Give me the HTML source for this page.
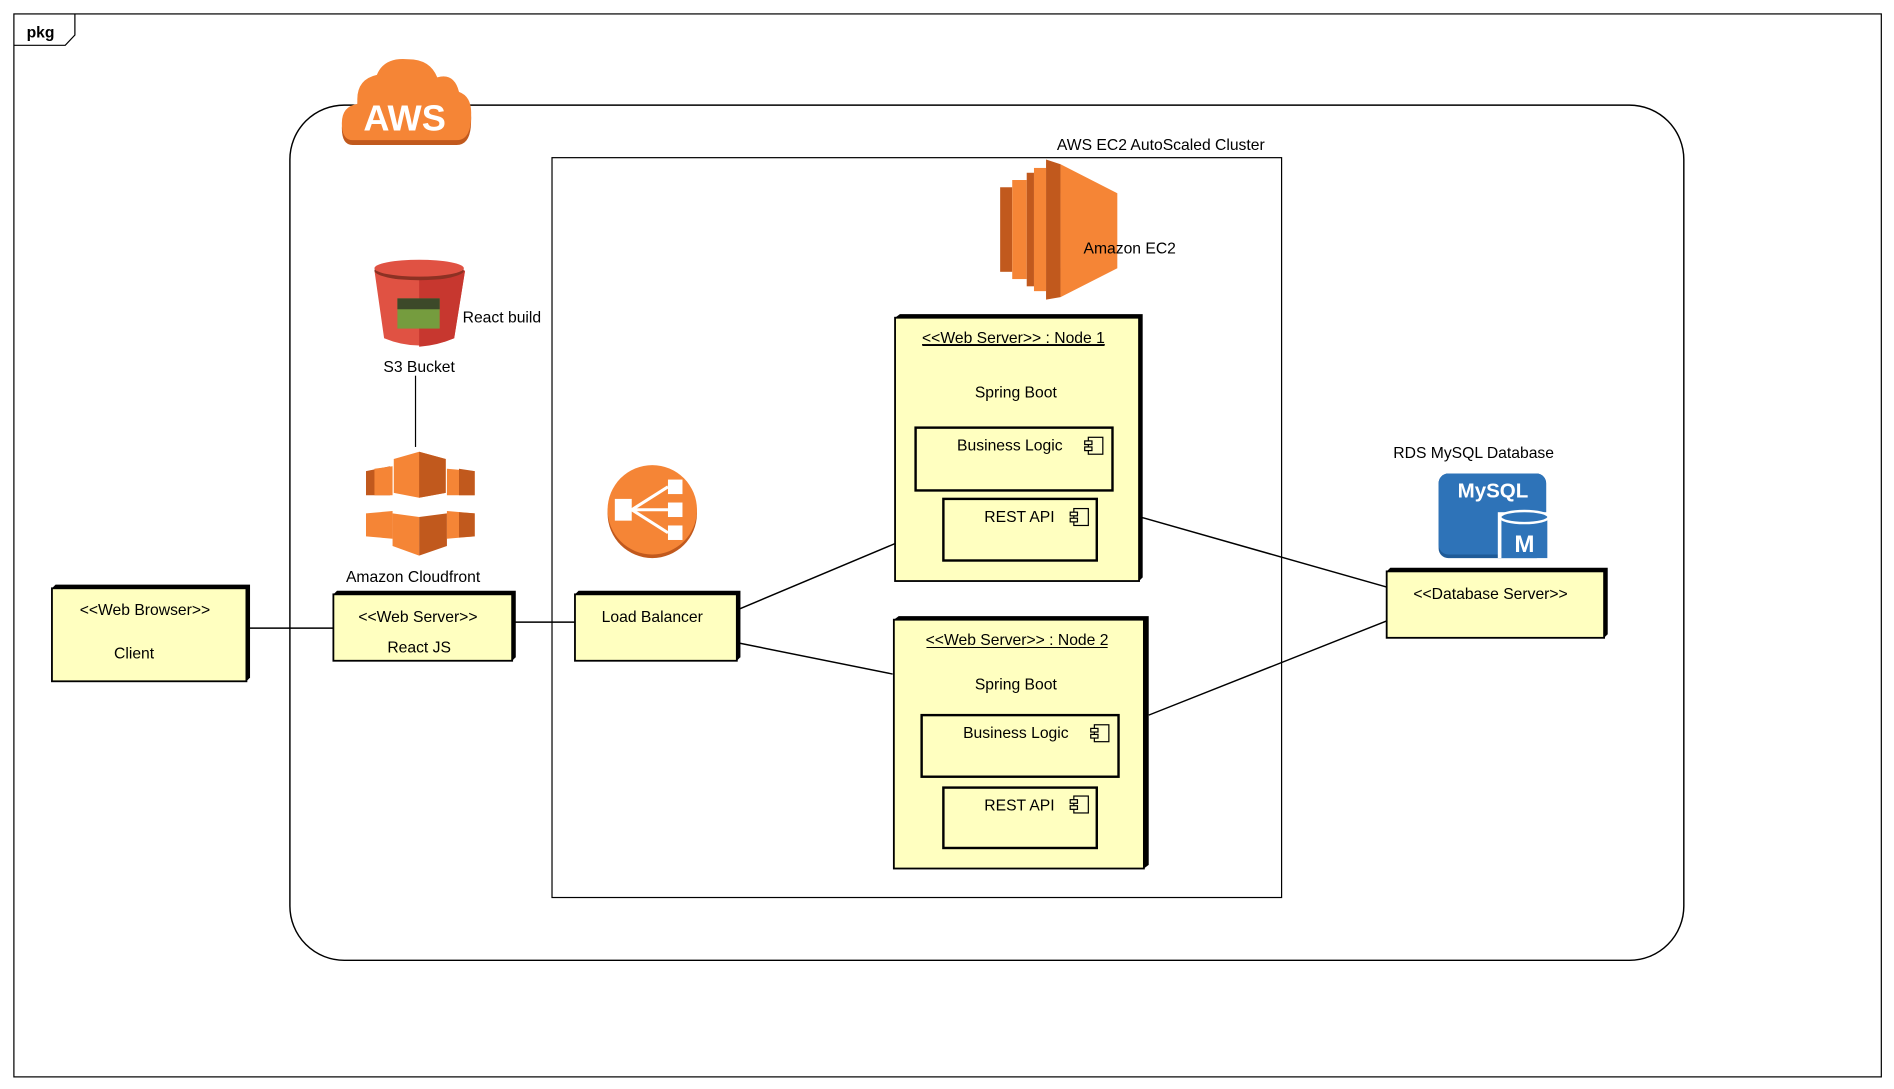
<!DOCTYPE html>
<html><head><meta charset="utf-8"><style>
html,body{margin:0;padding:0;background:#fff;width:1894px;height:1089px;overflow:hidden}
svg{display:block}
text{font-family:"Liberation Sans",sans-serif;font-size:13px;fill:#000}
</style></head><body>
<svg width="1894" height="1089" viewBox="0 0 1568 901.5" xmlns="http://www.w3.org/2000/svg">
<defs>
<g id="comp"><rect x="0" y="0" width="12" height="14" fill="#ffffcc" stroke="#000" stroke-width="1"/><rect x="-3" y="3" width="6" height="3" fill="#ffffcc" stroke="#000" stroke-width="1"/><rect x="-3" y="8" width="6" height="3" fill="#ffffcc" stroke="#000" stroke-width="1"/></g>
</defs>
<rect x="0" y="0" width="1568" height="901.5" fill="#fff"/>
<!-- outer frame -->
<rect x="11.5" y="11.5" width="1546" height="880" fill="none" stroke="#000" stroke-width="1"/>
<path d="M11.5 37.5 H54 L62 29 V11.5" fill="none" stroke="#000"/>
<text x="22" y="31" font-weight="bold" style="font-weight:bold">pkg</text>
<!-- AWS rounded rect -->
<rect x="240" y="87" width="1154" height="708" rx="45" ry="45" fill="#fff" stroke="#000" stroke-width="1.2"/>
<!-- AWS cloud -->
<g>
<path d="M292 120 Q283 120 283 106 Q283 92 296 90 Q294 70 312 66 Q318 50 338 52 Q356 52 362 68 Q376 64 380 80 Q391 84 390 100 Q390 120 378 120 Z" fill="#c1591d"/>
<path d="M292 116 Q283 116 283 102 Q283 88 296 86 Q294 66 312 62 Q318 47 338 49 Q356 49 362 64 Q376 60 380 76 Q391 80 390 96 Q390 116 378 116 Z" fill="#f58536"/>
<text x="335" y="108" text-anchor="middle" style="font-size:30px;font-weight:bold;fill:#fff">AWS</text>
</g>
<!-- EC2 cluster -->
<rect x="457" y="130.5" width="604" height="612.5" fill="#fff" stroke="#000" stroke-width="1"/>
<text x="875" y="124">AWS EC2 AutoScaled Cluster</text>
<!-- EC2 icon -->
<g>
<rect x="828" y="155" width="10" height="70" fill="#c1591d"/>
<rect x="838" y="149" width="12" height="82" fill="#f58536"/>
<rect x="850" y="143" width="6" height="94" fill="#c1591d"/>
<rect x="856" y="139" width="10" height="102" fill="#f58536"/>
<polygon points="866,132 878,136 878,246 866,248" fill="#c1591d"/>
<polygon points="878,136 925,160 925,222 878,246" fill="#f58536"/>
</g>
<text x="897" y="210">Amazon EC2</text>
<!-- Node 1 -->
<polygon points="741,263 745,260 946,260 946,478 943,481" fill="#000"/>
<rect x="741" y="263" width="202" height="218" fill="#ffffc0" stroke="#000" stroke-width="1.5"/>
<text x="839" y="284" text-anchor="middle" text-decoration="underline">&lt;&lt;Web Server&gt;&gt; : Node 1</text>
<line x1="764" y1="286" x2="914" y2="286" stroke="#000" stroke-width="0.8"/>
<text x="841" y="329" text-anchor="middle">Spring Boot</text>
<rect x="758" y="354" width="163" height="52" fill="#ffffc0" stroke="#000" stroke-width="2"/>
<text x="836" y="373" text-anchor="middle">Business Logic</text>
<use href="#comp" x="901" y="362"/>
<rect x="781" y="413" width="127" height="51" fill="#ffffc0" stroke="#000" stroke-width="2"/>
<text x="844" y="432" text-anchor="middle">REST API</text>
<use href="#comp" x="889" y="421"/>
<!-- Node 2 -->
<polygon points="740,513 744,510 951,510 951,716 947,719" fill="#000"/>
<rect x="740" y="513" width="207" height="206" fill="#ffffc0" stroke="#000" stroke-width="1.5"/>
<text x="842" y="534" text-anchor="middle">&lt;&lt;Web Server&gt;&gt; : Node 2</text>
<line x1="767" y1="536" x2="917" y2="536" stroke="#000" stroke-width="0.8"/>
<text x="841" y="571" text-anchor="middle">Spring Boot</text>
<rect x="763" y="592" width="163" height="51" fill="#ffffc0" stroke="#000" stroke-width="2"/>
<text x="841" y="611" text-anchor="middle">Business Logic</text>
<use href="#comp" x="906" y="600"/>
<rect x="781" y="652" width="127" height="50" fill="#ffffc0" stroke="#000" stroke-width="2"/>
<text x="844" y="671" text-anchor="middle">REST API</text>
<use href="#comp" x="889" y="659"/>
<!-- Load balancer icon -->
<circle cx="540" cy="425" r="37" fill="#c1591d"/>
<circle cx="540" cy="422" r="37" fill="#f58536"/>
<g fill="#fff" stroke="#fff">
<rect x="509" y="413" width="14" height="18" stroke="none"/>
<rect x="553" y="397" width="12" height="12" stroke="none"/>
<rect x="553" y="416" width="12" height="12" stroke="none"/>
<rect x="553" y="435" width="12" height="12" stroke="none"/>
<line x1="523" y1="422" x2="553" y2="403" stroke-width="2.5"/>
<line x1="523" y1="422" x2="553" y2="422" stroke-width="2.5"/>
<line x1="523" y1="422" x2="553" y2="441" stroke-width="2.5"/>
</g>
<!-- Load balancer box -->
<polygon points="476,492 479,489 613,489 613,544 610,547" fill="#000"/>
<rect x="476" y="492" width="134" height="55" fill="#ffffc0" stroke="#000" stroke-width="1.5"/>
<text x="540" y="515" text-anchor="middle">Load Balancer</text>
<!-- React web server -->
<polygon points="276,492 279,489 427,489 427,544 424,547" fill="#000"/>
<rect x="276" y="492" width="148" height="55" fill="#ffffc0" stroke="#000" stroke-width="1.5"/>
<text x="346" y="515" text-anchor="middle">&lt;&lt;Web Server&gt;&gt;</text>
<text x="347" y="540" text-anchor="middle">React JS</text>
<!-- Web browser -->
<polygon points="43,487 46,484 207,484 207,561 204,564" fill="#000"/>
<rect x="43" y="487" width="161" height="77" fill="#ffffc0" stroke="#000" stroke-width="1.5"/>
<text x="120" y="509" text-anchor="middle">&lt;&lt;Web Browser&gt;&gt;</text>
<text x="111" y="545" text-anchor="middle">Client</text>
<!-- S3 bucket -->
<g>
<path d="M310 224 L318 280 Q347 292 376 280 L385 224 Z" fill="#e05243"/>
<path d="M347 224 L385 224 L376 280 Q362 286 347 287 Z" fill="#c7372f"/>
<ellipse cx="347" cy="224" rx="37" ry="8" fill="#8c3123"/>
<ellipse cx="347" cy="222" rx="37" ry="7" fill="#e05243"/>
<rect x="329" y="247" width="35" height="25" fill="#759c3e"/>
<rect x="329" y="247" width="35" height="9" fill="#3c4929"/>
</g>
<text x="383" y="267">React build</text>
<text x="347" y="308" text-anchor="middle">S3 Bucket</text>
<line x1="344" y1="311" x2="344" y2="370" stroke="#000"/>
<!-- Cloudfront -->
<g>
<polygon points="326,380 347,374 369,380 369,408 347,412 326,408" fill="#f58536"/>
<polygon points="347,374 369,380 369,408 347,412" fill="#c1591d"/>
<polygon points="303,390 323,386 323,410 303,410" fill="#c1591d"/>
<polygon points="310,388 325,386 325,410 310,410" fill="#f58536"/>
<polygon points="370,388 393,390 393,410 370,410" fill="#f58536"/>
<polygon points="380,388 393,390 393,410 380,410" fill="#c1591d"/>
<polygon points="303,425 325,423 325,446 303,444" fill="#f58536"/>
<polygon points="325,425 347,428 347,460 325,452" fill="#f58536"/>
<polygon points="347,428 370,425 370,452 347,460" fill="#c1591d"/>
<polygon points="370,423 393,425 393,444 370,446" fill="#f58536"/>
<polygon points="380,424 393,425 393,444 380,445" fill="#c1591d"/>
</g>
<text x="342" y="482" text-anchor="middle">Amazon Cloudfront</text>
<!-- RDS -->
<text x="1220" y="379" text-anchor="middle">RDS MySQL Database</text>
<g>
<rect x="1191" y="392" width="89" height="70" rx="8" fill="#1f5b98"/>
<rect x="1191" y="392" width="89" height="67" rx="8" fill="#2e73b8"/>
<text x="1236" y="412" text-anchor="middle" style="font-size:17px;font-weight:bold;fill:#fff">MySQL</text>
<rect x="1240" y="424" width="42" height="38" fill="#fff"/>
<rect x="1243" y="430" width="38" height="32" fill="#2e73b8"/>
<ellipse cx="1262" cy="428" rx="20" ry="5" fill="#2e73b8" stroke="#fff" stroke-width="2"/>
<text x="1262" y="457" text-anchor="middle" style="font-size:20px;font-weight:bold;fill:#fff">M</text>
</g>
<!-- DB server -->
<polygon points="1148,473 1151,470 1331,470 1331,525 1328,528" fill="#000"/>
<rect x="1148" y="473" width="180" height="55" fill="#ffffc0" stroke="#000" stroke-width="1.5"/>
<text x="1234" y="496" text-anchor="middle">&lt;&lt;Database Server&gt;&gt;</text>
<!-- connectors -->
<g stroke="#000" stroke-width="1.2">
<line x1="204" y1="520" x2="276" y2="520"/>
<line x1="424" y1="515" x2="476" y2="515"/>
<line x1="610" y1="505" x2="741" y2="450"/>
<line x1="610" y1="532" x2="739" y2="558"/>
<line x1="944" y1="428" x2="1148" y2="486"/>
<line x1="951" y1="592" x2="1148" y2="514"/>
</g>
</svg>
</body></html>
